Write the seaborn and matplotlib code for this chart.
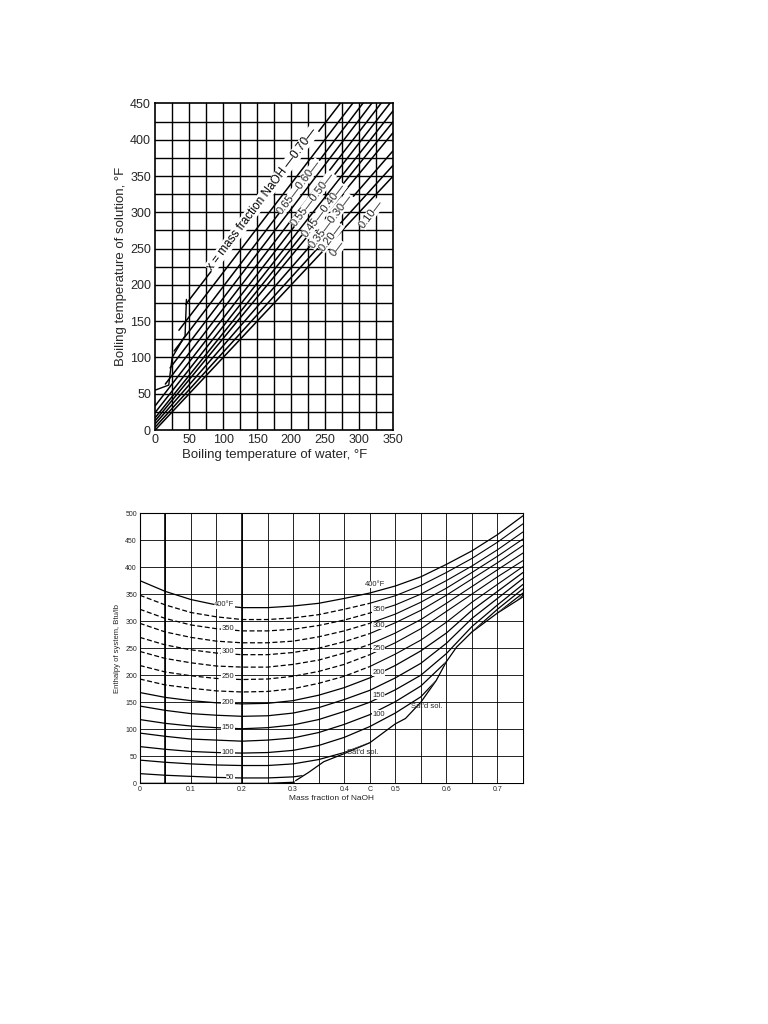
import matplotlib
matplotlib.use("Agg")
import matplotlib.pyplot as plt
import seaborn as sns
import numpy as np
import pandas as pd

sns.set_theme(style="white")
plt.rcParams['font.family'] = ['Liberation Sans', 'DejaVu Sans']

# ---- Top chart: Duhring lines
fractions = ["0", "0.10", "0.20", "0.30", "0.35", "0.40", "0.45", "0.50", "0.55", "0.60", "0.65", "0.70"]
water_at_200 = [200, 190, 178, 165, 157, 148, 138, 127, 115, 102, 86, 67]   # water temp where solution = 200 F
sol_at_350 = [350, 365, 385, 410, 425, 440, 456, 472, 489, 505, 523, 545]   # solution temp at water = 350 F
water_start = [0, 0, 0, 0, 0, 0, 0, 15, 22, 28, 35, 45]
limit_water = [46, 44, 25, 20, 0]
limit_sol = [180, 130, 100, 62, 55]

# ---- Bottom chart: enthalpy-concentration isotherms
xfrac = [0, 0.05, 0.1, 0.15, 0.2, 0.25, 0.3, 0.35, 0.4, 0.45, 0.5, 0.55, 0.6, 0.65, 0.7, 0.75]
iso = {
    32:  [0, 0, 0, 0, 0, 0, 2, 8, 20, 35, 55, 85, 140, 220, 285, 342],
    50:  [18, 15, 13, 11, 10, 10, 12, 18, 30, 45, 65, 95, 150, 230, 290, 345],
    75:  [43, 39, 36, 34, 33, 33, 36, 44, 57, 75, 97, 127, 180, 250, 302, 348],
    100: [68, 63, 59, 57, 56, 57, 61, 70, 85, 105, 130, 160, 210, 270, 315, 352],
    125: [93, 87, 82, 80, 78, 80, 84, 94, 109, 127, 151, 180, 225, 280, 322, 360],
    150: [118, 111, 106, 103, 101, 103, 108, 118, 133, 150, 173, 200, 240, 290, 330, 368],
    175: [143, 135, 129, 126, 124, 125, 130, 140, 155, 172, 195, 222, 259, 305, 342, 379],
    200: [168, 159, 153, 149, 147, 148, 153, 163, 177, 195, 218, 245, 278, 320, 355, 390],
    225: [193, 182, 176, 171, 169, 170, 175, 185, 198, 216, 239, 265, 298, 335, 368, 401],
    250: [218, 206, 199, 194, 192, 193, 198, 207, 220, 238, 260, 286, 318, 350, 382, 412],
    275: [244, 231, 223, 217, 215, 215, 220, 228, 241, 257, 278, 303, 333, 364, 395, 426],
    300: [270, 256, 247, 241, 238, 238, 242, 250, 262, 277, 297, 320, 348, 378, 408, 440],
    325: [296, 280, 270, 263, 260, 260, 263, 271, 282, 296, 313, 335, 361, 390, 420, 452],
    350: [322, 305, 293, 286, 282, 282, 285, 292, 302, 315, 330, 350, 375, 402, 432, 465],
    375: [348, 330, 316, 308, 303, 303, 306, 312, 322, 333, 347, 366, 390, 416, 446, 480],
    400: [375, 355, 340, 330, 325, 325, 328, 333, 342, 352, 365, 382, 405, 430, 460, 495],
}
sat_x = [0.305, 0.33, 0.36, 0.4, 0.45, 0.5, 0.52, 0.55, 0.58, 0.6, 0.62, 0.65, 0.7, 0.75]
sat_h = [5, 20, 40, 55, 75, 110, 120, 150, 190, 225, 252, 280, 315, 345]
left_labels = [("400°F", 330), ("350", 287), ("300", 243), ("250", 198),
               ("200", 150), ("150", 103), ("100", 57), ("50", 10)]
right_labels = [("400°F", 0.44, 368), ("350", 0.455, 322), ("300", 0.455, 292), ("250", 0.455, 250),
                ("200", 0.455, 205), ("150", 0.455, 163), ("100", 0.455, 128)]

fig = plt.figure(figsize=(7.68, 10.24), dpi=100)

# ================= TOP =================
ax = fig.add_axes([0.202, 0.580, 0.310, 0.319])
for v in np.arange(25, 450, 25):
    ax.axhline(v, color="black", lw=1.0, zorder=1)
for v in np.arange(25, 350, 25):
    ax.axvline(v, color="black", lw=1.0, zorder=1)
rows = []
for f, w2, s3, w0 in zip(fractions, water_at_200, sol_at_350, water_start):
    slope = (s3 - 200) / (350 - w2)
    rows += [dict(frac=f, water=w0, sol=200 + slope * (w0 - w2)), dict(frac=f, water=350, sol=s3)]
df = pd.DataFrame(rows)
sns.lineplot(data=df, x="water", y="sol", units="frac", estimator=None, color="black",
             lw=1.1, ax=ax, zorder=2)
sns.lineplot(x=limit_water, y=limit_sol, ax=ax, color="black", lw=1.0, sort=False, zorder=2)
ax.set_xlim(0, 350); ax.set_ylim(0, 450)
ax.set_xticks(range(0, 351, 50)); ax.set_yticks(range(0, 451, 50))
ax.tick_params(labelsize=9, length=0, pad=3)
for s in ax.spines.values():
    s.set_color("black"); s.set_linewidth(1.2)
ax.set_xlabel("Boiling temperature of water, °F", fontsize=9.5, labelpad=2)
ax.set_ylabel("Boiling temperature of solution, °F", fontsize=9.5, labelpad=2)
ang = 53
ax.text(157, 318, "x = mass fraction NaOH —0.70—", rotation=ang, rotation_mode="anchor",
        ha="center", va="center", fontsize=8.5, color="black", zorder=3,
        bbox=dict(fc="white", ec="none", pad=0.3))
for lab, x, y in [("0.65—0.60—", 212, 335), ("0.55—0.50—", 232, 318), ("0.45—0.40—", 248, 303),
                  ("0.35—0.30—", 258, 288), ("0.20—", 258, 266), ("0—", 268, 250), ("0.10—", 318, 298)]:
    ax.text(x, y, lab, rotation=ang, rotation_mode="anchor", ha="center", va="center",
            fontsize=8, zorder=3, bbox=dict(fc="white", ec="none", pad=0.2))

# ================= BOTTOM =================
bx = fig.add_axes([0.182, 0.235, 0.499, 0.264])
for v in np.arange(50, 500, 50):
    bx.axhline(v, color="black", lw=0.6, zorder=4)
for v in np.arange(0.05, 0.75, 0.05):
    bx.axvline(v, color="black", lw=0.6, zorder=4)
bx.axvline(0.05, color="black", lw=1.2, zorder=4)
bx.axvline(0.2, color="black", lw=1.2, zorder=4)
xa = np.array(xfrac)
for T, h in iso.items():
    h = np.array(h)
    if 210 <= T <= 390:
        m = xa <= 0.45
        sns.lineplot(x=xa[m], y=h[m], ax=bx, color="black", lw=0.9, ls=(0, (4, 2)), zorder=2)
        sns.lineplot(x=xa[xa >= 0.45], y=h[xa >= 0.45], ax=bx, color="black", lw=0.8, zorder=2)
    else:
        sns.lineplot(x=xa, y=h, ax=bx, color="black", lw=0.9, zorder=2)
bx.fill(list(sat_x) + [0.75, 0.305], list(sat_h) + [0, 0], color="white", zorder=3)
sns.lineplot(x=sat_x, y=sat_h, ax=bx, color="black", lw=0.9, zorder=5, sort=False)
for lab, y in left_labels:
    bx.text(0.185, y, lab, fontsize=5.5, ha="right", va="center", zorder=6,
            bbox=dict(fc="white", ec="none", pad=0.3))
for lab, x, y in right_labels:
    bx.text(x, y, lab, fontsize=5.5, ha="left", va="center", zorder=6,
            bbox=dict(fc="white", ec="none", pad=0.3))
bx.text(0.53, 140, "Sat'd sol.", fontsize=5.5, zorder=6)
bx.text(0.405, 55, "Sat'd sol.", fontsize=5.5, zorder=6)
bx.set_xlim(0, 0.75); bx.set_ylim(0, 500)
bx.set_xticks([0, 0.1, 0.2, 0.3, 0.4, 0.45, 0.5, 0.6, 0.7])
bx.set_xticklabels(["0", "0.1", "0.2", "0.3", "0.4", "C", "0.5", "0.6", "0.7"])
bx.set_yticks(range(0, 501, 50))
bx.tick_params(labelsize=5, length=0, pad=2)
for s in bx.spines.values():
    s.set_color("black"); s.set_linewidth(0.8)
bx.set_xlabel("Mass fraction of NaOH", fontsize=6, labelpad=1)
bx.set_ylabel("Enthalpy of system, Btu/lb", fontsize=5.5, labelpad=3)

fig.savefig("out.png", dpi=100)
